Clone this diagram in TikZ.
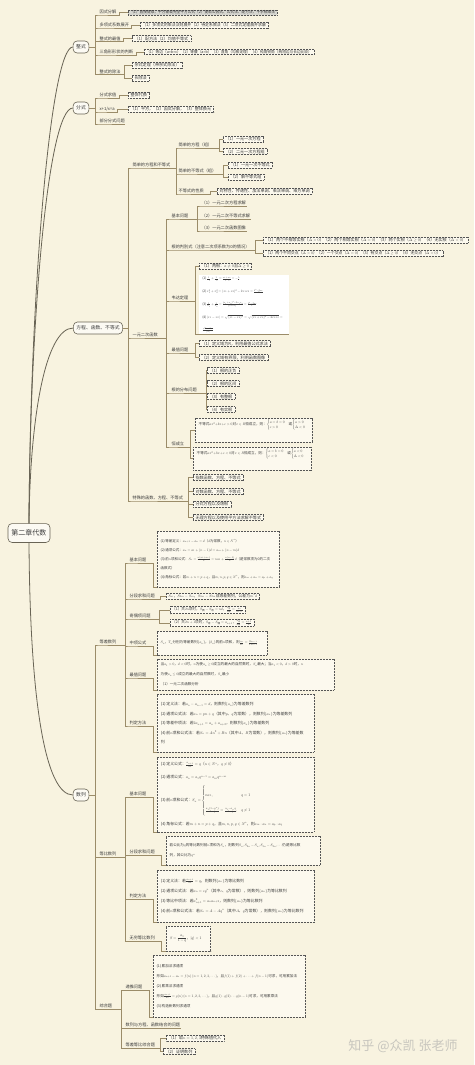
\documentclass[tikz,border=0pt]{standalone}
\usepackage{amsmath}
\usepackage[no-math]{fontspec}
\setmainfont{Noto Sans CJK SC}
\XeTeXlinebreaklocale "zh"
\XeTeXlinebreakskip=0pt plus 1pt

\definecolor{fond}{RGB}{248,243,224}
\definecolor{trait}{RGB}{155,140,105}
\definecolor{tige}{RGB}{105,100,85}
\definecolor{bord}{RGB}{85,85,85}
\definecolor{boitefond}{RGB}{252,249,238}
\definecolor{gris}{RGB}{214,214,208}
\definecolor{encre}{RGB}{60,60,60}
\definecolor{marquecol}{RGB}{200,198,190}

\newcommand\taille[2]{\fontsize{#1}{#2}\selectfont}

\tikzset{
  lien/.style={draw=trait, line width=0.45pt},
  courbe/.style={draw=tige, line width=0.8pt},
  lbl/.style={anchor=south west, scale=0.42, inner xsep=1.2pt, inner ysep=1.9pt, text=encre, font=\taille{10}{12}},
  cadre/.style={draw=bord, dash pattern=on 1pt off 0.5pt, line width=0.4pt, fill=boitefond, text=encre, inner xsep=6pt, inner ysep=2.4pt, font=\taille{10}{12}},
  boite/.style={cadre, anchor=west, scale=0.41},
  grande/.style={cadre, anchor=north west, align=left, inner xsep=10pt, inner ysep=5pt},
  pave/.style={draw=tige, rounded corners=4pt, fill=white!60!fond, line width=0.6pt, text=encre, font=\taille{10}{12}},
  branche/.style={pave, scale=0.48, inner xsep=6.25pt, minimum height=25pt, minimum width=33pt},
  racine/.style={pave, scale=0.7, inner xsep=5pt, minimum height=27pt, minimum width=60pt}
}

\begin{document}
\begin{tikzpicture}[x=1pt,y=-1pt]
        % Fond
        \fill[fond] (0,0) rectangle (474,1065);
        \useasboundingbox (0,0) rectangle (474,1065);

        % Racine et branches principales
        \node[racine] (racine) at (29,533) {第二章代数};
        \node[branche] (zs) at (81,47) {整式};
        \node[branche] (fs) at (81,108) {分式};
        \node[branche] (fc) at (98,328) {方程、函数、不等式};
        \node[branche] (sl) at (81,795) {数列};

        \draw[courbe] (racine.north) .. controls (30,300) and (50,47) .. (zs.west);
        \draw[courbe] (racine.north) .. controls (30,320) and (48,108) .. (fs.west);
        \draw[courbe] (racine.north) .. controls (30,420) and (45,328) .. (fc.west);
        \draw[courbe] (racine.south) .. controls (30,700) and (45,795) .. (sl.west);

        %整式
        \node[lbl] (c11) at (99,15) {因式分解};
        \node[lbl] (c12) at (99,28) {多项式系数展开};
        \node[lbl] (c13) at (99,41.5) {整式的最值};
        \node[lbl] (c14) at (99,55) {三角形形状的判断};
        \node[lbl] (c15) at (99,74.5) {整式的除法};
        \node[cadre, anchor=west, scale=0.37, fill=gris] (b11) at (128,12.5) {（1）直接提取、平方差或完全平方公式（2）提取公因式、公式法、配方法、十字相乘法};
        \node[cadre, anchor=west, scale=0.39] (b12) at (140,25) {（1）多项式的乘法法则展开（2）待定系数法（3）二项式定理展开求解};
        \node[boite] (b13) at (132,38.5) {（1）配方法（2）均值不等式};
        \node[cadre, anchor=west, scale=0.37] (b14) at (144,52) {（1）等边（a=b=c）（2）等腰（a=b）（3）直角（勾股定理）（4）钝角锐角（两短边与长边比较）};
        \node[boite] (b15a) at (132,65) {余式定理（带余式除法）};
        \node[boite] (b15b) at (132,78) {长除法};

        % 分式
        \node[lbl] (c21) at (99,98) {分式求值};
        \node[lbl] (c22) at (99,112) {x+1/x=a};
        \node[lbl] (c23) at (99,124) {部分分式问题};
        \node[boite] (b21) at (128,95) {整体代换};
        \node[boite] (b22) at (128,109) {（1）平方，（2）因式分解，（3）整体换元};

        % 方程、函数、不等式
        \node[lbl] (c31) at (132,168) {简单的方程和不等式};
        \node[lbl] (c32) at (132,338) {一元二次函数};
        \node[lbl] (c33) at (132,501) {特殊的函数、方程、不等式};

        \node[lbl] (c311) at (178,148) {简单的方程（组）};
        \node[lbl] (c312) at (178,174) {简单的不等式（组）};
        \node[lbl] (c313) at (178,194) {不等式的性质};
        \node[boite] (b3111) at (223,139) {（1）一元一次方程};
        \node[boite] (b3112) at (223,151.5) {（2）二元一次方程组};
        \node[boite] (b3121) at (228,165) {（1）一元一次不等式};
        \node[boite] (b3122) at (228,177) {（2）解不等式组};
        \node[boite] (b313) at (217,191) {对称性、传递性、加法单调、乘法单调、乘方单调};

        \node[lbl] (c321) at (171,219) {基本问题};
        \node[lbl] (c322) at (171,250) {根的判别式（注意二次项系数为0的情况）};
        \node[lbl] (c323) at (171,301) {韦达定理};
        \node[lbl] (c324) at (171,353) {最值问题};
        \node[lbl] (c325) at (171,393) {根的分布问题};
        \node[lbl] (c326) at (171,447) {恒成立};

        \node[lbl] (c3211) at (201,206) {（1）一元二次方程求解};
        \node[lbl] (c3212) at (201,219) {（2）一元二次不等式求解};
        \node[lbl] (c3213) at (201,231) {（3）一元二次函数图像};
        \node[boite] (b3221) at (263,240) {（1）两个不相等实根（$\Delta>0$）（2）两个相等实根（$\Delta=0$）（3）两个实根（$\Delta\geq0$）（4）无实根（$\Delta<0$）};
        \node[cadre, anchor=west, scale=0.39] (b3222) at (263,253.5) {（1）两个不同交点（$\Delta>0$）（2）一个交点（$\Delta=0$）（3）有交点（$\Delta\geq0$）（4）无交点（$\Delta<0$）};
        \node[boite] (b3231) at (199,266.5) {（1）两根：$a\neq0$且$\Delta\geq0$};
        \node[grande, draw=none, fill=white, scale=0.33, text width=251pt, minimum height=170pt, font=\taille{10}{39}] (f3232) at (199,275) {%
          (1)\,$\frac{1}{x_1}+\frac{1}{x_2}=\frac{x_1+x_2}{x_1x_2}=-\frac{b}{c}$\\
          (2)\,$x_1^2+x_2^2=(x_1+x_2)^2-2x_1x_2=\frac{b^2-2ac}{a^2}$\\
          (3)\,$\frac{1}{x_1^2}+\frac{1}{x_2^2}=\frac{(x_1+x_2)^2-2x_1x_2}{(x_1x_2)^2}=\frac{b^2-2ac}{c^2}$\\
          (4)\,$|x_1-x_2|=\sqrt{(x_1-x_2)^2}=\sqrt{(x_1+x_2)^2-4x_1x_2}=\frac{\sqrt{b^2-4ac}}{|a|}$};
        \node[boite] (b3241) at (199,343.5) {（1）定义域为R，利用最值公式求法};
        \node[boite] (b3242) at (199,357.5) {（2）定义域有界限，利用函数图像};
        \node[boite] (b3251) at (207,370.5) {（1）根的正负};
        \node[boite] (b3252) at (207,383.5) {（2）根的区间};
        \node[boite] (b3253) at (207,396.5) {（3）有整根};
        \node[boite] (b3254) at (207,409.5) {（4）有实根};
        \node[grande, scale=0.36, text width=306pt, text height=17pt, text depth=39pt] (b3261) at (195,418) {不等式$ax^2+bx+c>0$对$x\in R$恒成立，则：$\begin{cases}a=b=0\\c>0\end{cases}$或$\begin{cases}a>0\\\Delta<0\end{cases}$};
        \node[grande, scale=0.36, text width=308pt, text height=17pt, text depth=36pt] (b3262) at (193,447) {不等式$ax^2+bx+c<0$对$x\in R$恒成立，则：$\begin{cases}a=b=0\\c<0\end{cases}$或$\begin{cases}a<0\\\Delta<0\end{cases}$};

        \node[boite] (b331) at (193,477.5) {指数函数、方程、不等式};
        \node[boite] (b332) at (193,491.5) {对数函数、方程、不等式};
        \node[boite] (b333) at (193,504) {分式方程以及增根};
        \node[boite] (b334) at (193,517.5) {无理方程以及使用平方法求解不等式};

        % 数列
        \node[lbl] (c41) at (99,645) {等差数列};
        \node[lbl] (c42) at (99,857) {等比数列};
        \node[lbl] (c43) at (99,1009) {综合题};

        \node[lbl] (c411) at (129,563) {基本问题};
        \node[lbl] (c412) at (129,599) {分段求和问题};
        \node[lbl] (c413) at (129,619) {奇偶项问题};
        \node[lbl] (c414) at (129,646) {中项公式};
        \node[lbl] (c415) at (129,678) {最值问题};
        \node[lbl] (c416) at (129,726) {判定方法};
        \node[grande, scale=0.35, text width=329pt, minimum height=160pt, font=\taille{10}{25.7}] (b411) at (157,531) {%
          (1)\,等差定义：$a_{n+1}-a_n=d$（$d$为常数，$n\in N^*$）\\
          (2)\,通项公式：$a_n=a_1+(n-1)d=a_m+(n-m)d$\\
          (3)\,前$n$项和公式：$S_n=\frac{n(a_1+a_n)}{2}=na_1+\frac{n(n-1)}{2}d$（是常数项为0的二次\\
          函数式）\\
          (4)\,角标公式：若$m+n=p+q$，且$m,n,p,q\in N^*$，则$a_m+a_n=a_p+a_q$};
        \node[cadre, anchor=west, scale=0.38] (b412) at (166,596) {$S_m$，$S_{2m}-S_m$，$S_{3m}-S_{2m}$成等差数列，公差为$m^2d$};
        \node[cadre, anchor=west, scale=0.36] (b4131) at (170,610) {（1）共$2n$项时，$S_{\text{偶}}-S_{\text{奇}}=nd$，$\frac{S_{\text{奇}}}{S_{\text{偶}}}=\frac{a_n}{a_{n+1}}$};
        \node[cadre, anchor=west, scale=0.36] (b4132) at (170,623) {（2）共$2n+1$项时，$S_{\text{奇}}-S_{\text{偶}}=a_{n+1}$，$\frac{S_{\text{奇}}}{S_{\text{偶}}}=\frac{n+1}{n}$};
        \node[grande, scale=0.36, text width=286pt, minimum height=67pt] (b414) at (157,631) {$S_n$，$T_n$分别为等差数列$\{a_n\}$，$\{b_n\}$的前$n$项和，则$\frac{a_n}{b_n}=\frac{S_{2n-1}}{T_{2n-1}}$};
        \node[grande, scale=0.36, text width=472pt, minimum height=86pt, font=\taille{10}{27.8}] (b415) at (157,659) {%
          当$a_1>0$，$d<0$时，$n$为使$a_n\geq0$成立的最大的自然数时，$S_n$最大；当$a_1<0$，$d>0$时，$n$\\
          为使$a_n\leq0$成立的最大的自然数时，$S_n$最小\\
          （1）一元二次函数分析};
        \node[grande, scale=0.39, text width=382pt, minimum height=149pt, font=\taille{10}{24.4}] (b416) at (157,694) {%
          (1)\,定义法：若$a_n-a_{n-1}=d$，则数列$\{a_n\}$为等差数列\\
          (2)\,通项公式法：若$a_n=pn+q$（其中$p$、$q$为常数），则数列$\{a_n\}$为等差数列\\
          (3)\,等差中项法：若$2a_{n+1}=a_n+a_{n+2}$，则数列$\{a_n\}$为等差数列\\
          (4)\,前$n$项和公式法：若$S_n=An^2+Bn$（其中$A$、$B$为常数），则数列$\{a_n\}$为等差数\\
          列};

        \node[lbl] (c421) at (129,797) {基本问题};
        \node[lbl] (c422) at (129,855) {分段求和问题};
        \node[lbl] (c423) at (129,899) {判定方法};
        \node[lbl] (c424) at (129,941) {无穷等比数列};
        \node[grande, scale=0.39, text width=382pt, minimum height=192pt, font=\taille{10}{33}] (b421) at (157,757) {%
          (1)\,定义公式：$\frac{a_{n+1}}{a_n}=q$（$n\in N^*$，$q\neq0$）\\
          (2)\,通项公式：$a_n=a_1q^{n-1}=a_mq^{n-m}$\\[14pt]
          (3)\,前$n$项和公式：$S_n=\begin{cases}na_1, & q=1\\ \frac{a_1(1-q^n)}{1-q}=\frac{a_1-a_nq}{1-q}, & q\neq1\end{cases}$\\[14pt]
          (4)\,角标公式：若$m+n=p+q$，且$m,n,p,q\in N^*$，则$a_m\cdot a_n=a_p\cdot a_q$};
        \node[grande, scale=0.36, text width=408pt, minimum height=81pt, font=\taille{10}{27.8}] (b422) at (166,836) {%
          若公比为$q$的等比数列前$n$项和为$S_n$，则数列$S_n,S_{2n}-S_n,S_{3n}-S_{2n},\cdots$仍是等比数\\
          列，其公比为$q^n$};
        \node[grande, scale=0.39, text width=382pt, minimum height=133pt, font=\taille{10}{25.6}] (b423) at (157,870) {%
          (1)\,定义法：若$\frac{a_{n+1}}{a_n}=q$，则数列$\{a_n\}$为等比数列\\
          (2)\,通项公式法：若$a_n=cq^n$（其中$c$、$q$为常数），则数列$\{a_n\}$为等比数列\\
          (3)\,等比中项法：若$a_{n+1}^2=a_na_{n+2}$，则数列$\{a_n\}$为等比数列\\
          (4)\,前$n$项和公式法：若$S_n=A-Aq^n$（其中$A$、$q$为常数），则数列$\{a_n\}$为等比数列};
        \node[grande, scale=0.38, text width=97pt, minimum height=66pt] (b424) at (166,926) {$S=\dfrac{a_1}{1-q}$，$|q|<1$};

        \node[lbl] (c431) at (125,990) {递推问题};
        \node[lbl] (c432) at (125,1028) {数列与方程、函数结合的问题};
        \node[lbl] (c433) at (125,1048) {等差等比综合题};
        \node[grande, scale=0.36, text width=403pt, minimum height=172pt, font=\taille{10}{27.8}] (b431) at (153,955) {%
          (1)\,累加法求通项\\
          形如$a_{n+1}-a_n=f(n)\,(n=1,2,3,\cdots)$，且$f(1)+f(2)+\cdots+f(n-1)$可求，可用累加法\\
          (2)\,累乘法求通项\\
          形如$\frac{a_{n+1}}{a_n}=g(n)\,(n=1,2,3,\cdots)$，且$g(1)\cdot g(2)\cdots g(n-1)$可求，可用累乘法\\
          (3)\,构造新数列求通项};
        \node[boite] (b4331) at (166,1038.5) {（1）取$n=1,2,3$特殊值代入};
        \node[boite] (b4332) at (163,1051.5) {（2）证明数列};

        % Filigrane
        \node[text=marquecol, font=\taille{13}{14}] (marque) at (403,1046) {知乎 @众凯 张老师};

        % Liens parent -> enfant (soulignés)
        \foreach \x/\y/\d in {zs/c11/6, zs/c12/6, zs/c13/6, zs/c14/6, zs/c15/6,
                              fs/c21/6, fs/c22/6, fs/c23/6,
                              fc/c31/5, fc/c32/5, fc/c33/5,
                              sl/c41/6, sl/c42/6, sl/c43/6}
          \draw[lien] (\x.east) -- ++(\d,0) |- (\y.south west) -- (\y.south east);
        \foreach \x/\y/\d in {c31/c311/5, c31/c312/5, c31/c313/5,
                              c32/c321/8, c32/c322/8, c32/c323/8, c32/c324/8, c32/c325/8, c32/c326/8,
                              c321/c3211/8, c321/c3212/8, c321/c3213/8,
                              c41/c411/8, c41/c412/8, c41/c413/8, c41/c414/8, c41/c415/8, c41/c416/8,
                              c42/c421/8, c42/c422/8, c42/c423/8, c42/c424/8,
                              c43/c431/8, c43/c432/8, c43/c433/8}
          \draw[lien] (\x.south east) -- ++(\d,0) |- (\y.south west) -- (\y.south east);

        % Liens vers les boites
        \foreach \x/\y/\d in {c11/b11/2, c12/b12/2, c13/b13/2, c14/b14/2, c15/b15a/3, c15/b15b/3,
                              c21/b21/2, c22/b22/2,
                              c311/b3111/6, c311/b3112/6, c312/b3121/6, c312/b3122/6, c313/b313/6,
                              c322/b3221/5, c322/b3222/5, c323/b3231/6,
                              c324/b3241/6, c324/b3242/6,
                              c325/b3251/9, c325/b3252/9, c325/b3253/9, c325/b3254/9,
                              c326/b3261/5, c326/b3262/5,
                              c33/b331/5, c33/b332/5, c33/b333/5, c33/b334/5,
                              c412/b412/5, c413/b4131/8, c413/b4132/8,
                              c433/b4331/5, c433/b4332/5}
          \draw[lien] (\x.south east) -- ++(\d,0) |- (\y.west);

        % Grandes boites : liées par le coin bas gauche
        \foreach \x/\y/\d in {c411/b411/6, c414/b414/6, c415/b415/6, c416/b416/6,
                              c421/b421/6, c422/b422/6, c423/b423/6, c424/b424/6,
                              c431/b431/6}
          \draw[lien] (\x.south east) -- ++(\d,0) |- (\y.south west);
        \draw[lien] (c323.south east) -- ++(6,0) |- (f3232.south west) -- (f3232.south east);

\end{tikzpicture}
\end{document}
